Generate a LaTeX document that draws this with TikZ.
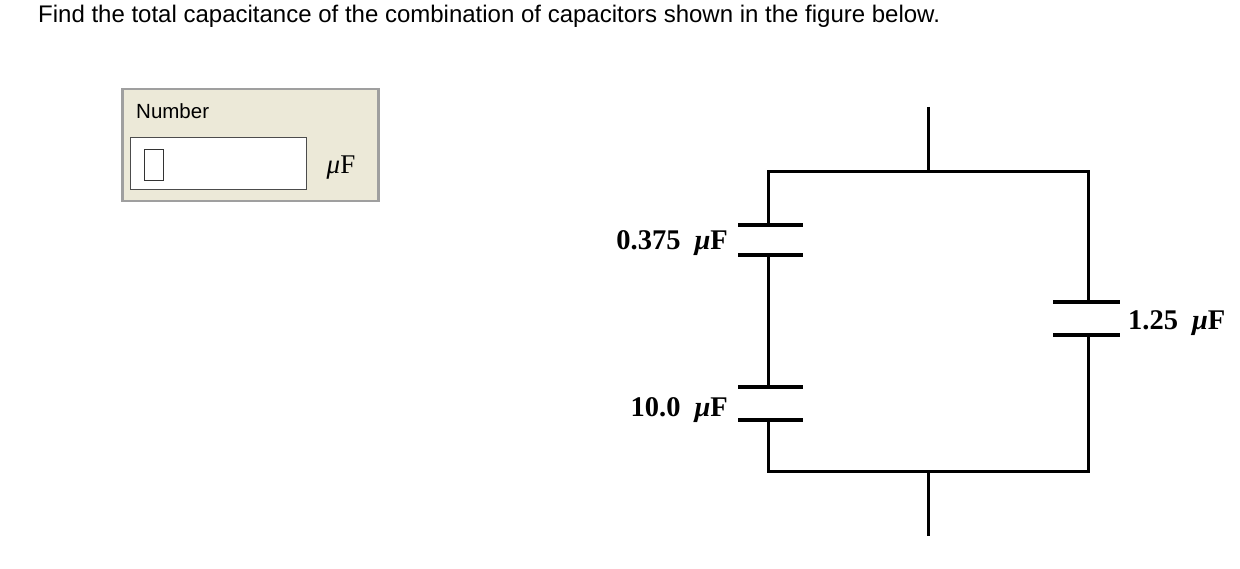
\documentclass[tikz,border=0pt]{standalone}
\usepackage{fontspec}
\setmainfont{Liberation Serif}
\newfontfamily\arial{Liberation Sans}
\begin{document}
\begin{tikzpicture}[x=1pt,y=-1pt,
  wire/.style={line width=3pt},
  plate/.style={line width=4.5pt},
  val/.style={font=\fontsize{28.5}{32}\selectfont\bfseries, inner sep=0pt}]
\useasboundingbox (0,0) rectangle (1240,569);
\node[anchor=base west, inner sep=0pt, font=\arial\fontsize{24}{28}\selectfont] (title) at (38,23) {Find the total capacitance of the combination of capacitors shown in the figure below.};
% answer box
\node[draw=gray!75, line width=2.5pt, fill={rgb,255:red,236;green,233;blue,216}, minimum width=256pt, minimum height=112pt, anchor=north west, inner sep=0pt] (box) at (121,88) {};
\node[anchor=base west, inner sep=0pt, font=\arial\fontsize{20.5}{24}\selectfont] (num) at (136,119) {Number};
\node[draw=black!70, line width=1pt, fill=white, minimum width=176pt, minimum height=52pt, anchor=north west, inner sep=0pt] (inp) at (130,137) {};
\node[draw=black!80, line width=1pt, minimum width=19pt, minimum height=31pt, anchor=north west, inner sep=0pt] (cur) at (144,149) {};
\node[anchor=base, inner sep=0pt, font=\fontsize{27}{30}\selectfont] (unit) at (341,174) {\textit{μ}F};
% circuit coordinates
\coordinate (tt) at (928,107); \coordinate (tm) at (928,172);
\coordinate (tl) at (768,172); \coordinate (tr) at (1088,172);
\coordinate (bl) at (768,471); \coordinate (br) at (1088,471);
\coordinate (bm) at (928,471); \coordinate (bb) at (928,536);
\coordinate (a1) at (768,225); \coordinate (a2) at (768,255);
\coordinate (b1) at (768,387); \coordinate (b2) at (768,420);
\coordinate (c1) at (1088,302); \coordinate (c2) at (1088,335);
\draw[wire] (tt) -- (tm);
\draw[wire] (bm) -- (bb);
\draw[wire] (a1) -- (tl) -- (tr) -- (c1);
\draw[wire] (a2) -- (b1);
\draw[wire] (b2) -- (bl) -- (br) -- (c2);
\draw[plate] ([xshift=-30pt]a1) -- ([xshift=35pt]a1);
\draw[plate] ([xshift=-30pt]a2) -- ([xshift=35pt]a2);
\draw[plate] ([xshift=-30pt]b1) -- ([xshift=35pt]b1);
\draw[plate] ([xshift=-30pt]b2) -- ([xshift=35pt]b2);
\draw[plate] ([xshift=-35pt]c1) -- ([xshift=32pt]c1);
\draw[plate] ([xshift=-35pt]c2) -- ([xshift=32pt]c2);
\node[val, anchor=base east] (l1) at (728,250) {0.375\hspace{14pt}\textit{μ}F};
\node[val, anchor=base east] (l2) at (728,416) {10.0\hspace{14pt}\textit{μ}F};
\node[val, anchor=base west] (l3) at (1128,330) {1.25\hspace{14pt}\textit{μ}F};
\end{tikzpicture}
\end{document}
